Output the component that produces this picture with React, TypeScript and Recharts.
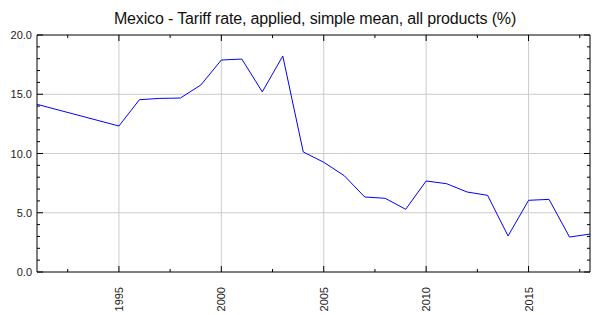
import { CartesianGrid, Line, LineChart, XAxis, YAxis } from "recharts";

const years = [
  1991, 1995, 1996, 1997, 1998, 1999, 2000, 2001, 2002, 2003, 2004, 2005, 2006,
  2007, 2008, 2009, 2010, 2011, 2012, 2013, 2014, 2015, 2016, 2017, 2018,
];
const tariffRates = [
  14.15, 12.32, 14.54, 14.65, 14.68, 15.78, 17.89, 17.97, 15.2, 18.23, 10.13,
  9.26, 8.13, 6.33, 6.22, 5.29, 7.68, 7.45, 6.75, 6.47, 3.04, 6.05, 6.13, 2.95,
  3.2,
];

const majorYearTicks = [1995, 2000, 2005, 2010, 2015];
const minorYearTicks = [1992.5, 1997.5, 2002.5, 2007.5, 2012.5, 2017.5];
const majorRateTicks = [0, 5, 10, 15, 20];
const minorRateTicks = [1, 2, 3, 4, 6, 7, 8, 9, 11, 12, 13, 14, 16, 17, 18, 19];

const data = years.map((year, i) => ({ year, rate: tariffRates[i] }));
const yearTicks = [...majorYearTicks, ...minorYearTicks].sort((a, b) => a - b);
const rateTicks = [...majorRateTicks, ...minorRateTicks].sort((a, b) => a - b);

const FONT = "'Liberation Sans', Arial, sans-serif";
const isMajor = (v: number) => v % 5 === 0;

function BottomTick({ x, y, payload }: any) {
  const v = payload.value as number;
  const major = isMajor(v);
  return (
    <g>
      <line x1={x} y1={y} x2={x} y2={y - (major ? 6 : 3)} stroke="#000" />
      {major && (
        <text
          x={x}
          y={y + 15}
          transform={`rotate(-90 ${x} ${y + 15})`}
          textAnchor="end"
          dominantBaseline="central"
          fontSize={11}
          fontFamily={FONT}
          fill="#222"
        >
          {v}
        </text>
      )}
    </g>
  );
}

function TopTick({ x, y, payload }: any) {
  const major = isMajor(payload.value);
  return <line x1={x} y1={y} x2={x} y2={y + (major ? 6 : 3)} stroke="#000" />;
}

function LeftTick({ x, y, payload }: any) {
  const v = payload.value as number;
  const major = isMajor(v);
  return (
    <g>
      <line x1={x} y1={y} x2={x + (major ? 6 : 3)} y2={y} stroke="#000" />
      {major && (
        <text
          x={x - 5}
          y={y}
          textAnchor="end"
          dominantBaseline="central"
          fontSize={11}
          fontFamily={FONT}
          fill="#222"
        >
          {v.toFixed(1)}
        </text>
      )}
    </g>
  );
}

function RightTick({ x, y, payload }: any) {
  const major = isMajor(payload.value);
  return <line x1={x} y1={y} x2={x - (major ? 6 : 3)} y2={y} stroke="#000" />;
}

export default function App() {
  return (
    <div style={{ position: "absolute", top: 0, left: 0, width: 600, height: 315, background: "#fff" }}>
      <div
        style={{
          position: "absolute",
          top: 10,
          left: 315,
          transform: "translateX(-50%)",
          whiteSpace: "nowrap",
          fontFamily: FONT,
          fontSize: 16,
          letterSpacing: -0.15,
          color: "#111",
        }}
      >
        Mexico - Tariff rate, applied, simple mean, all products (%)
      </div>
      <LineChart width={600} height={315} data={data} margin={{ top: 34, right: 9, bottom: 0, left: 0 }}>
        <CartesianGrid
          stroke="#cccccc"
          strokeWidth={1}
          horizontalValues={[5, 10, 15]}
          verticalValues={majorYearTicks}
        />
        <XAxis
          dataKey="year"
          type="number"
          domain={[1991, 2018]}
          ticks={yearTicks}
          interval={0}
          height={43}
          tickSize={0}
          tickMargin={0}
          tickLine={false}
          axisLine={{ stroke: "#000" }}
          tick={<BottomTick />}
          allowDataOverflow
        />
        {/* top and right axes only carry the frame and inward ticks */}
        <XAxis
          xAxisId="top"
          orientation="top"
          dataKey="year"
          type="number"
          domain={[1991, 2018]}
          ticks={yearTicks}
          interval={0}
          height={1}
          tickSize={0}
          tickMargin={0}
          tickLine={false}
          axisLine={{ stroke: "#000" }}
          tick={<TopTick />}
          allowDataOverflow
        />
        <YAxis
          type="number"
          domain={[0, 20]}
          ticks={rateTicks}
          interval={0}
          width={37}
          tickSize={0}
          tickMargin={0}
          tickLine={false}
          axisLine={{ stroke: "#000" }}
          tick={<LeftTick />}
          allowDataOverflow
        />
        <YAxis
          yAxisId="right"
          orientation="right"
          type="number"
          domain={[0, 20]}
          ticks={rateTicks}
          interval={0}
          width={1}
          tickSize={0}
          tickMargin={0}
          tickLine={false}
          axisLine={{ stroke: "#000" }}
          tick={<RightTick />}
          allowDataOverflow
        />
        <Line
          xAxisId="top"
          yAxisId="right"
          type="linear"
          dataKey="rate"
          stroke="none"
          dot={false}
          activeDot={false}
          isAnimationActive={false}
        />
        <Line
          type="linear"
          dataKey="rate"
          stroke="#0000ff"
          strokeWidth={1}
          dot={false}
          activeDot={false}
          isAnimationActive={false}
        />
      </LineChart>
    </div>
  );
}
